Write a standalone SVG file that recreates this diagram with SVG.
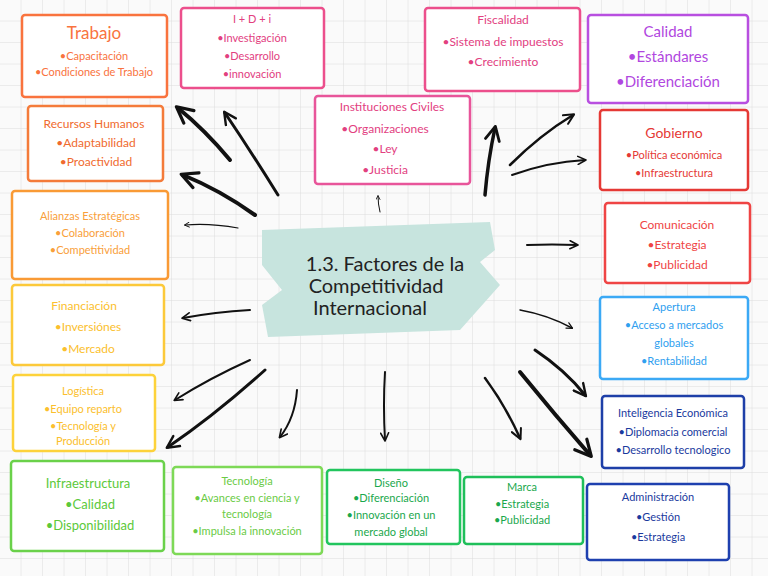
<svg xmlns="http://www.w3.org/2000/svg" width="768" height="576" viewBox="0 0 768 576">
<defs>
<pattern id="g" width="21.5" height="21.5" patternUnits="userSpaceOnUse"><path d="M21.5 0V21.5H0" fill="none" stroke="#dcdcdc" stroke-width="1"/></pattern>
<marker id="a" viewBox="0 0 10 10" refX="8" refY="5" markerWidth="5" markerHeight="5" orient="auto"><path d="M1 1L9 5L1 9" fill="none" stroke="#111" stroke-width="1.6" stroke-linecap="round" stroke-linejoin="round"/></marker>
</defs>
<style>
text{font-family:"Lato","Noto Sans",sans-serif;text-anchor:middle}
rect.b{fill:#fff;stroke-width:2.5}
.c path{fill:none;stroke:#111;stroke-linecap:round;marker-end:url(#a)}
.t{font-size:12px}.s{font-size:11px}
</style>
<rect width="768" height="576" fill="#fafafa"/>
<rect width="768" height="576" fill="url(#g)"/>
<g id="center">
<path d="M262 230 L490 222 L495 250 L480 262 L500 285 L460 330 L268 337 L262 305 L282 290 L262 265 Z" fill="#c7e4de"/>
<text x="385" y="271" font-size="20" fill="#222">1.3. Factores de la</text>
<text x="376" y="293" font-size="20" fill="#222">Competitividad</text>
<text x="370" y="315" font-size="20" fill="#222">Internacional</text>
</g>
<g id="trabajo" fill="#f9733e"><rect class="b" x="22" y="15" width="145" height="82" rx="3" stroke="#f9733e"/><text x="94" y="39" font-size="17">Trabajo</text><text class="s" x="94" y="60">•Capacitación</text><text class="s" x="94" y="76">•Condiciones de Trabajo</text></g>
<g id="idi" fill="#e2407f"><rect class="b" x="181" y="8" width="143" height="80" rx="3" stroke="#ec4f8c"/><text class="s" x="252" y="23">I + D + i</text><text class="s" x="252" y="42">•Investigación</text><text class="s" x="252" y="60">•Desarrollo</text><text class="s" x="252" y="78">•innovación</text></g>
<g id="fiscalidad" fill="#e2407f"><rect class="b" x="425" y="8" width="155" height="83" rx="3" stroke="#ec4f8c"/><text class="t" x="503" y="24">Fiscalidad</text><text class="t" x="503" y="46">•Sistema de impuestos</text><text class="t" x="503" y="66">•Crecimiento</text></g>
<g id="calidad" fill="#b147e0"><rect class="b" x="588" y="15" width="160" height="88" rx="3" stroke="#b84fe0"/><text x="668" y="37" font-size="15">Calidad</text><text x="668" y="62" font-size="15">•Estándares</text><text x="668" y="87" font-size="15">•Diferenciación</text></g>
<g id="rrhh" fill="#f06a2e"><rect class="b" x="28" y="106" width="135" height="75" rx="3" stroke="#f47b3a"/><text class="t" x="94" y="128">Recursos Humanos</text><text class="t" x="96" y="147">•Adaptabilidad</text><text class="t" x="96" y="166">•Proactividad</text></g>
<g id="instituciones" fill="#e2407f"><rect class="b" x="315" y="96" width="155" height="88" rx="3" stroke="#e8559a"/><text class="t" x="392" y="111">Instituciones Civiles</text><text class="t" x="385" y="133">•Organizaciones</text><text class="t" x="385" y="153">•Ley</text><text class="t" x="385" y="174">•Justicia</text></g>
<g id="gobierno" fill="#e53935"><rect class="b" x="600" y="110" width="148" height="80" rx="3" stroke="#e53935"/><text x="674" y="138" font-size="14">Gobierno</text><text class="s" x="674" y="159">•Política económica</text><text class="s" x="674" y="177">•Infraestructura</text></g>
<g id="alianzas" fill="#f9a03a"><rect class="b" x="12" y="191" width="156" height="88" rx="3" stroke="#f99a35"/><text class="s" x="90" y="220">Alianzas Estratégicas</text><text class="s" x="90" y="237">•Colaboración</text><text class="s" x="90" y="254">•Competitividad</text></g>
<g id="comunicacion" fill="#ef4444"><rect class="b" x="605" y="203" width="145" height="80" rx="3" stroke="#ef4444"/><text class="t" x="677" y="229">Comunicación</text><text class="t" x="677" y="249">•Estrategia</text><text class="t" x="677" y="269">•Publicidad</text></g>
<g id="financiacion" fill="#fbc02d"><rect class="b" x="12" y="285" width="152" height="80" rx="3" stroke="#fcc93a"/><text class="t" x="84" y="310">Financiación</text><text class="t" x="88" y="331">•Inversiónes</text><text class="t" x="88" y="353">•Mercado</text></g>
<g id="apertura" fill="#2fa0ef"><rect class="b" x="600" y="297" width="148" height="82" rx="3" stroke="#3ba9f5"/><text class="s" x="674" y="311">Apertura</text><text class="s" x="674" y="329">•Acceso a mercados</text><text class="s" x="674" y="347">globales</text><text class="s" x="674" y="365">•Rentabilidad</text></g>
<g id="logistica" fill="#fbc02d"><rect class="b" x="13" y="375" width="142" height="76" rx="3" stroke="#fdd23a"/><text class="s" x="83" y="395">Logística</text><text class="s" x="83" y="413">•Equipo reparto</text><text class="s" x="83" y="430">•Tecnología y</text><text class="s" x="83" y="445">Producción</text></g>
<g id="inteligencia" fill="#1a3a9e"><rect class="b" x="602" y="396" width="142" height="72" rx="3" stroke="#1e3fa8"/><text class="s" x="673" y="417">Inteligencia Económica</text><text class="s" x="673" y="436">•Diplomacia comercial</text><text class="s" x="673" y="454">•Desarrollo tecnologico</text></g>
<g id="infraestructura" fill="#5cc93a"><rect class="b" x="11" y="461" width="153" height="90" rx="3" stroke="#6ad14a"/><text x="88" y="488" font-size="13">Infraestructura</text><text x="90" y="509" font-size="13">•Calidad</text><text x="90" y="530" font-size="13">•Disponibilidad</text></g>
<g id="tecnologia" fill="#6acb45"><rect class="b" x="173" y="467" width="149" height="87" rx="3" stroke="#7ed957"/><text class="s" x="247" y="485">Tecnología</text><text class="s" x="247" y="502">•Avances en ciencia y</text><text class="s" x="247" y="518">tecnología</text><text class="s" x="247" y="535">•Impulsa la innovación</text></g>
<g id="diseno" fill="#1aa84d"><rect class="b" x="327" y="470" width="133" height="74" rx="3" stroke="#22c55e"/><text class="s" x="391" y="487">Diseño</text><text class="s" x="391" y="502">•Diferenciación</text><text class="s" x="391" y="519">•Innovación en un</text><text class="s" x="391" y="536">mercado global</text></g>
<g id="marca" fill="#1aa84d"><rect class="b" x="464" y="477" width="119" height="67" rx="3" stroke="#1fbf5a"/><text class="s" x="522" y="491">Marca</text><text class="s" x="522" y="508">•Estrategia</text><text class="s" x="522" y="524">•Publicidad</text></g>
<g id="administracion" fill="#1a3a9e"><rect class="b" x="587" y="484" width="142" height="76" rx="3" stroke="#1e40af"/><text class="s" x="658" y="501">Administración</text><text class="s" x="658" y="521">•Gestión</text><text class="s" x="658" y="541">•Estrategia</text></g>
<g id="connectors" class="c">
<path d="M230 160 Q205 130 178 108" stroke-width="4"/>
<path d="M278 195 Q250 150 225 113" stroke-width="3"/>
<path d="M255 215 Q220 190 183 175" stroke-width="4"/>
<path d="M238 228 Q210 223 185 225" stroke-width="1.2"/>
<path d="M250 310 Q215 312 183 318" stroke-width="2"/>
<path d="M250 360 Q210 378 175 400" stroke-width="2"/>
<path d="M265 370 Q215 415 168 447" stroke-width="3"/>
<path d="M297 390 Q295 418 280 437" stroke-width="2"/>
<path d="M385 372 Q383 405 385 440" stroke-width="2"/>
<path d="M485 378 Q505 405 520 438" stroke-width="2.5"/>
<path d="M535 350 Q565 370 585 395" stroke-width="3"/>
<path d="M520 372 Q555 415 590 455" stroke-width="4"/>
<path d="M520 310 Q548 315 572 328" stroke-width="1.5"/>
<path d="M527 245 Q552 244 577 245" stroke-width="2"/>
<path d="M512 175 Q548 162 585 160" stroke-width="2"/>
<path d="M510 165 Q540 135 573 115" stroke-width="2.5"/>
<path d="M485 195 Q488 160 495 128" stroke-width="3.5"/>
<path d="M380 212 Q378 204 378 196" stroke-width="1"/>
</g>
</svg>
